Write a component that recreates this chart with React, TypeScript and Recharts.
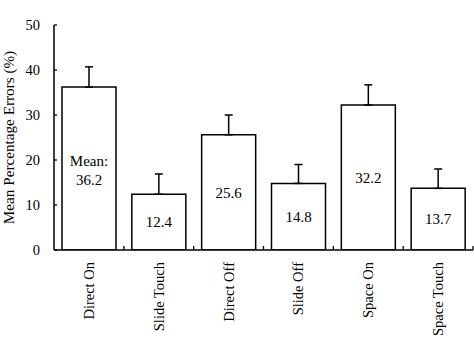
import { BarChart, Bar, XAxis, YAxis, ErrorBar, LabelList } from 'recharts';

// Conditions and mean errors
const conditions = ['Direct On', 'Slide Touch', 'Direct Off', 'Slide Off', 'Space On', 'Space Touch'];
const meanErrors = [36.2, 12.4, 25.6, 14.8, 32.2, 13.7];
// upper error bars only (lower part sits on the bar top)
const upperErrors = [4.5, 4.5, 4.4, 4.2, 4.5, 4.3];
const yTicks = [0, 10, 20, 30, 40, 50];

const FONT = '"Liberation Serif", "DejaVu Serif", serif';

const chartData = conditions.map((name, i) => ({
  name,
  mean: meanErrors[i],
  err: [0, upperErrors[i]],
}));

// tick y arrives as axis + tickSize(6) + tickMargin(2)
const CategoryTick = (props: any) => {
  const { x, y, payload } = props;
  const half = payload.offset ?? 35;
  const axisY = y - 8;
  return (
    <g>
      <line x1={x + half} x2={x + half} y1={axisY} y2={axisY - 4} stroke="#000" strokeWidth={1.3} />
      <text
        x={x}
        y={axisY + 12}
        transform={`rotate(-90, ${x}, ${axisY + 12})`}
        textAnchor="end"
        dy="0.35em"
        fontFamily={FONT}
        fontSize={14.5}
        fill="#000"
      >
        {payload.value}
      </text>
    </g>
  );
};

const MeanLabel = (props: any) => {
  const { x, y, width, height, value, index } = props;
  const cx = x + width / 2;
  const cy = y + height / 2;
  if (index === 0) {
    return (
      <text x={cx} y={cy} textAnchor="middle" fontFamily={FONT} fontSize={15} fill="#000">
        <tspan x={cx} dy="-0.2em">Mean:</tspan>
        <tspan x={cx} dy="1.3em">{value}</tspan>
      </text>
    );
  }
  return (
    <text x={cx} y={cy} dy="0.35em" textAnchor="middle" fontFamily={FONT} fontSize={15} fill="#000">
      {value}
    </text>
  );
};

export default function App() {
  return (
    <div style={{ position: 'absolute', left: 0, top: 0, background: '#fff' }}>
      <BarChart
        width={474}
        height={362}
        data={chartData}
        margin={{ top: 25, right: 1, left: 0, bottom: 0 }}
        barCategoryGap={8}
      >
        <XAxis
          dataKey="name"
          height={112}
          axisLine={{ stroke: '#000', strokeWidth: 1.5 }}
          tickLine={false}
          tick={<CategoryTick />}
          interval={0}
        />
        <YAxis
          width={54}
          domain={[0, 50]}
          ticks={yTicks}
          allowDataOverflow
          axisLine={{ stroke: '#000', strokeWidth: 1.5 }}
          tickLine={{ stroke: '#000', strokeWidth: 1.3 }}
          tickSize={-3}
          tickMargin={17}
          tick={{ fill: '#000', fontFamily: FONT, fontSize: 14.5 }}
          label={{
            value: 'Mean Percentage Errors (%)',
            angle: -90,
            position: 'insideLeft',
            dx: 4,
            dy: 0,
            style: { fill: '#000', fontFamily: FONT, fontSize: 15.2, textAnchor: 'middle' },
          }}
        />
        <Bar dataKey="mean" fill="#fff" stroke="#000" strokeWidth={1.5} isAnimationActive={false}>
          <ErrorBar dataKey="err" width={4} stroke="#000" strokeWidth={1.5} direction="y" />
          <LabelList dataKey="mean" content={<MeanLabel />} />
        </Bar>
      </BarChart>
    </div>
  );
}
